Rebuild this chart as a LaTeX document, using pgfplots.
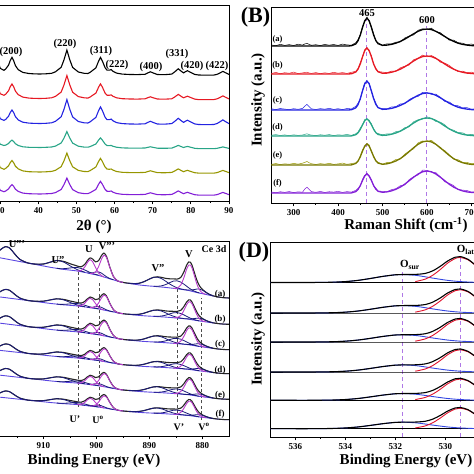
\documentclass[border=0pt]{standalone}
\usepackage{pgfplots}
\pgfplotsset{compat=1.18}
\usepackage{pgfplotstable}
\usepackage{fontspec}
\setmainfont{Liberation Serif}

\definecolor{cred}{RGB}{230,25,35}
\definecolor{cblue}{RGB}{35,35,225}
\definecolor{cteal}{RGB}{40,165,135}
\definecolor{colive}{RGB}{150,150,0}
\definecolor{cpurple}{RGB}{130,30,215}
\definecolor{cdash}{RGB}{175,120,230}
\definecolor{cbg}{RGB}{90,70,225}
\definecolor{cmag}{RGB}{185,60,205}
\definecolor{cnavy}{RGB}{25,25,120}
\definecolor{dred}{RGB}{225,20,45}
\definecolor{dblue}{RGB}{50,70,225}

% XRD patterns: intensity above each trace's own baseline
\pgfplotstableread{
x a b c d e f
29 21.6 18.6 18.6 13.6 17.3 14.9
30 7.2 6.3 6.3 4.8 5.9 5.2
31 5.2 4.7 4.6 3.5 4.2 3.8
31.45 6.5 5.8 5.6 3.9 5.1 4.5
32.2 10.3 9.2 8.7 5.5 7.7 6.6
32.65 15.0 13.3 12.5 7.5 10.8 9.1
33.1 18.1 16.0 15.0 8.9 13.0 10.9
33.55 14.8 13.2 12.4 7.4 10.7 9.1
34.0 9.9 8.9 8.4 5.3 7.3 6.3
34.75 5.8 5.3 5.1 3.5 4.6 4.1
35.95 3.1 2.9 2.8 2.2 2.6 2.4
37.5 2.0 1.9 1.9 1.7 1.8 1.8
39 1.6 1.6 1.6 1.6 1.6 1.6
40.5 1.5 1.5 1.5 1.5 1.5 1.5
42 1.7 1.7 1.7 1.7 1.7 1.7
43.5 2.2 2.2 2.2 2.0 2.1 2.0
44.5 3.7 3.6 3.7 2.9 3.2 2.9
46 8.2 7.9 8.2 6.0 6.8 6.0
46.75 15.8 15.2 15.8 11.0 12.8 11.0
47.5 25.4 24.4 25.4 17.4 20.4 17.4
48.25 15.8 15.2 15.8 11.0 12.8 11.0
49 8.1 7.8 8.1 5.9 6.7 5.9
50.5 3.5 3.4 3.5 2.8 3.1 2.8
52 2.2 2.2 2.2 1.9 2.0 1.9
53 2.0 1.9 2.0 1.8 1.9 1.9
53.6 3.2 3.0 3.2 2.4 2.9 2.8
55.1 7.6 6.9 7.6 5.0 6.5 6.1
55.85 14.7 13.1 14.7 9.1 12.3 11.5
56.3 18.1 16.1 18.1 11.1 15.1 14.1
56.75 14.9 13.3 14.9 9.2 12.4 11.6
57.5 7.9 7.0 7.9 5.0 6.6 6.2
58.0 5.4 4.8 5.4 3.5 4.5 4.3
58.6 5.3 4.7 5.3 3.3 4.2 4.1
59.1 5.9 5.1 5.9 3.6 4.5 4.5
59.6 4.2 3.7 4.2 2.7 3.4 3.3
60.5 2.4 2.2 2.4 1.8 2.0 2.0
62 1.4 1.3 1.4 1.1 1.2 1.2
64 1.0 1.0 1.0 0.9 0.9 0.9
66 0.9 0.9 0.9 0.85 0.86 0.86
68 1.2 1.2 1.2 1.0 1.1 1.1
68.65 2.5 2.2 2.5 1.6 1.9 1.9
69.4 3.7 3.2 3.7 2.2 2.7 2.7
70.15 2.5 2.2 2.5 1.6 1.9 1.9
71.2 1.0 1.0 1.0 0.8 0.9 0.9
73 0.8 0.8 0.8 0.7 0.7 0.7
75 1.4 1.2 1.4 0.9 1.1 1.1
75.8 3.7 3.1 3.7 2.1 2.6 2.6
76.7 6.7 5.6 6.7 3.6 4.6 4.6
77.6 3.9 3.3 3.9 2.2 2.7 2.7
78.1 2.6 2.2 2.6 1.5 1.8 1.8
78.4 3.4 2.7 3.4 1.9 2.3 2.3
79.1 4.8 3.8 4.8 2.6 3.2 3.2
80.0 3.0 2.4 3.0 1.7 2.0 2.0
81 1.1 0.9 1.1 0.7 0.8 0.8
82 0.5 0.4 0.5 0.4 0.4 0.4
84 0.3 0.3 0.3 0.3 0.3 0.3
86 0.4 0.4 0.5 0.3 0.35 0.35
86.9 1.2 1.2 1.5 0.7 0.9 0.9
87.8 2.9 2.9 3.6 1.5 2.2 2.2
88.4 4.1 4.1 5.1 2.1 3.1 3.1
89.0 2.9 2.9 3.6 1.5 2.2 2.2
90 1.1 1.1 1.4 0.6 0.9 0.9
}\tblA

% Raman spectra: fitted curves (f*) and measured data (r*)
\pgfplotstableread{
x fa fb fc fd fe ff ra rb rc rd re rf
250 0 0 0 0 0 0 1.0 0.5 1.2 0.8 0.6 1.1
260 0 0 0 0 0 0 0.3 1.6 0.4 1.4 1.5 0.2
270 0 0 0 0 0 0 1.7 0.2 1.5 0.5 0.4 1.3
280 0 0 0 0 0 0 0.6 1.3 0.9 1.1 1.2 0.6
290 0 0 0 0 0 0 1.4 0.7 0.3 0.3 0.7 1.5
300 0 0 0 0 0 0 0.5 1.9 1.3 1.2 1.6 0.4
310 0 0 0 0 0 0 1.8 0.4 0.7 0.6 0.9 1.2
320 0 0 0 0 0 0 0.9 1.1 1.6 1.0 1.8 0.8
325 0 0 0 0 0 0 2.0 1.5 3.8 1.6 2.6 3.9
330 0 0 0 0 0 0 2.6 1.8 5.6 2.2 3.5 5.8
335 0 0 0 0 0 0 1.6 1.0 3.4 1.4 2.2 3.6
340 0 0 0 0 0 0 0.7 0.6 1.2 0.9 1.3 1.4
350 0 0 0 0 0 0 1.3 1.4 0.5 0.4 0.5 0.7
360 0 0 0 0 0 0 0.4 0.3 1.4 1.3 1.4 1.6
370 0 0 0 0 0 0 1.6 1.2 0.8 0.7 0.8 0.5
380 0 0 0 0 0 0 0.8 0.5 1.7 1.5 1.7 1.3
390 0 0 0 0 0 0 1.5 1.7 0.6 0.4 0.6 0.9
400 0 0 0 0 0 0 0.6 0.8 1.3 1.2 1.1 1.7
410 0 0 0 0 0 0 1.9 1.4 0.4 0.8 1.9 0.6
420 0 0 0 0 0 0 1.1 0.6 1.5 1.6 0.7 1.4
430 0.2 0.2 0.2 0.1 0.1 0.1 0.8 1.7 1.1 0.6 1.4 0.9
440 2.1 2.0 2.2 1.3 1.6 1.4 3.3 2.8 3.7 2.3 2.2 2.7
445 5.3 4.9 5.5 3.2 4.0 3.6 6.5 5.7 7.0 4.1 3.7 4.7
450 10.9 10.1 11.3 6.6 8.2 7.4 11.4 11.4 10.5 8.0 9.2 6.9
455 18.5 17.2 19.1 11.2 13.9 12.5 19.6 16.6 19.8 10.8 15.3 13.8
460 25.2 23.4 26.1 15.3 18.9 17.1 24.3 24.4 27.3 16.5 18.1 17.5
465 28 26 29 17 21 19 28.6 26.4 28.5 17.3 21.6 20.0
470 25.2 23.4 26.1 15.3 18.9 17.1 24.2 22.6 27.0 14.3 20.1 16.2
475 18.5 17.2 19.1 11.2 13.9 12.5 19.3 18.4 18.0 12.3 12.9 13.2
480 11.0 10.1 11.4 6.7 8.3 7.5 12.3 9.6 12.0 7.2 9.2 6.9
485 5.4 5.0 5.6 3.4 4.2 3.8 5.0 5.9 7.0 3.1 4.4 5.0
490 2.3 2.2 2.4 1.5 1.9 1.7 3.2 2.5 2.2 2.5 2.7 2.0
500 0.6 0.7 0.6 0.6 0.7 0.7 0.8 1.9 1.4 1.2 0.8 1.6
510 0.9 0.9 0.9 0.9 1.2 1.1 2.2 1.3 1.2 2.1 2.5 1.3
520 1.6 1.7 1.6 1.7 2.3 2.1 2.1 2.8 3.0 2.0 2.8 3.3
530 2.8 3.0 2.8 3.0 4.0 3.7 3.8 2.7 3.4 4.4 5.5 4.3
540 4.6 4.8 4.6 4.8 6.4 5.9 4.0 6.2 6.1 5.0 6.0 7.3
550 6.8 7.2 6.8 7.2 9.6 8.8 8.0 7.8 6.1 8.3 10.8 8.0
560 9.5 10.0 9.5 10.0 13.4 12.3 9.9 9.0 10.5 9.1 14.0 13.4
570 12.2 13.0 12.2 13.0 17.3 15.8 11.1 14.3 12.7 14.3 16.1 16.3
580 14.7 15.6 14.7 15.6 20.7 19.0 15.7 15.8 13.5 16.2 22.1 18.0
590 16.4 17.4 16.4 17.4 23.1 21.2 17.2 18.9 17.7 16.9 24.0 22.8
600 17 18 17 18 24 22 16.5 17.1 17.4 19.2 23.3 22.7
610 16.4 17.4 16.4 17.4 23.1 21.2 17.8 18.5 15.6 17.7 24.7 20.8
620 14.7 15.6 14.7 15.6 20.7 19.0 14.4 16.1 15.8 14.5 20.9 20.3
630 12.2 13.0 12.2 13.0 17.3 15.8 13.3 11.8 12.9 13.9 16.4 16.2
640 9.5 10.0 9.5 10.0 13.4 12.3 9.7 10.9 8.6 11.3 14.5 11.2
650 6.8 7.2 6.8 7.2 9.6 8.8 5.9 8.6 8.1 6.8 10.3 9.7
660 4.6 4.8 4.6 4.8 6.4 5.9 5.9 5.1 4.8 5.8 5.8 7.4
670 2.8 3.0 2.8 3.0 4.0 3.7 3.3 2.4 4.2 3.4 5.3 3.4
680 1.6 1.7 1.6 1.7 2.3 2.1 2.8 2.8 2.2 3.2 2.7 2.9
690 0.9 0.9 0.9 0.9 1.2 1.1 1.3 1.4 2.4 1.1 2.6 2.5
700 0.4 0.5 0.4 0.5 0.6 0.6 2.0 1.8 0.7 1.6 1.2 0.9
710 0.2 0.2 0.2 0.2 0.3 0.3 0.9 0.6 1.4 0.8 1.8 1.4
720 0.1 0.1 0.1 0.1 0.1 0.1 1.3 1.1 0.6 1.4 0.4 0.7
}\tblB

% Ce 3d: background and measured envelope of the reference sample
\pgfplotstableread{
E bg data
920 41.5 42.3
919 40.8 44.2
918 40.0 48.8
917.2 39.2 51.3
916.4 38.4 50.0
915.5 37.5 44.5
914.5 36.5 38.8
913 35.0 35.1
911.5 33.5 33.9
910 32.0 34.0
908.5 30.5 36.2
907.5 29.7 37.5
906.8 29.0 37.2
906 28.5 36.3
905 27.9 34.3
904.3 27.5 33.1
903.6 27.0 31.9
902.9 26.3 31.2
902.2 25.6 33.7
901.7 25.0 37.5
901.2 24.4 40.1
900.7 23.8 38.8
900.2 23.3 36.2
899.6 22.6 37.4
899.1 21.8 42.1
898.6 21.0 44.9
898.1 20.2 41.4
897.5 19.2 31.2
896.8 18.2 21.5
896 16.8 17.1
895 15.6 15.6
894 14.7 14.8
893 13.9 14.4
892 13.1 14.7
891 12.5 16.4
890 12.0 19.0
889.2 11.7 20.7
888.5 11.3 21.2
887.8 11.0 20.7
887 10.6 19.7
886.2 10.1 19.2
885.5 9.7 19.1
884.8 9.2 18.9
884.1 8.7 20.6
883.5 8.3 26.2
883 7.9 32.8
882.6 7.5 36.0
882.3 7.1 35.8
882 6.7 33.1
881.6 6.2 26.6
881.1 5.5 18.4
880.6 4.9 12.4
880 4.3 8.5
879.4 3.6 5.9
878.8 2.9 3.9
878 2.0 2.2
877 1.0 1.0
876 0.3 0.3
875 0.0 0.0
}\tblC

% fitted Ce 3d components (background included)
\pgfplotstableread{
E H
920 42.3
919 44.2
918 48.8
917.2 51.3
916.4 50.0
915.5 44.5
914.5 38.8
913 35.1
}\cUiii
\pgfplotstableread{
E H
913 35.0
911.5 33.9
910 34.0
908.5 36.2
907.5 37.4
906.8 36.9
906 35.4
905 32.2
904.3 30.1
903.6 28.3
902.9 26.9
902.2 25.8
}\cUii
\pgfplotstableread{
E H
907.5 29.8
906.8 29.3
906 29.4
905 30.0
904.3 30.5
903.6 30.5
902.9 29.5
902.2 28.0
901.7 26.7
901.2 25.5
900.7 24.4
900.2 23.6
899.6 22.7
}\cUi
\pgfplotstableread{
E H
903.6 27.1
902.9 27.4
902.2 31.1
901.7 35.6
901.2 38.3
900.7 36.1
900.2 30.7
899.6 25.0
899.1 22.4
898.6 21.1
}\cU
\pgfplotstableread{
E H
901.7 25.2
901.2 25.0
900.7 25.2
900.2 25.9
899.6 26.1
899.1 25.0
898.6 23.1
898.1 21.2
897.5 19.5
896.8 18.2
}\cUo
\pgfplotstableread{
E H
901.2 24.5
900.7 24.5
900.2 25.9
899.6 31.4
899.1 38.3
898.6 42.7
898.1 40.4
897.5 30.9
896.8 21.5
896 17.1
895 15.6
}\cViii
\pgfplotstableread{
E H
894 14.8
893 14.4
892 14.7
891 16.4
890 19.0
889.2 20.7
888.5 20.8
887.8 19.6
887 17.0
886.2 14.0
885.5 11.9
884.8 10.2
884.1 9.1
883.5 8.5
}\cVii
\pgfplotstableread{
E H
889.2 11.8
888.5 11.7
887.8 12.1
887 13.3
886.2 15.3
885.5 16.9
884.8 17.2
884.1 15.9
883.5 13.8
883 11.8
882.6 10.2
882.3 9.1
882 8.1
881.6 7.0
881.1 5.9
880.6 5.1
}\cVi
\pgfplotstableread{
E H
885.5 9.7
884.8 9.9
884.1 13.0
883.5 20.5
883 28.7
882.6 32.9
882.3 33.0
882 30.4
881.6 23.6
881.1 14.6
880.6 8.4
880 5.0
879.4 3.7
}\cV
\pgfplotstableread{
E H
883.5 8.3
883 8.1
882.6 7.9
882.3 7.9
882 8.0
881.6 8.4
881.1 8.9
880.6 8.9
880 7.8
879.4 5.8
878.8 3.9
878 2.2
}\cVo

% O 1s: surface and lattice oxygen components and envelope
\pgfplotstableread{
E sur latt data
537 0 0 0
536 0 0 0
535.5 0 0 0
535 0.1 0 0.1
534.5 0.3 0 0.3
534 0.9 0 0.9
533.5 2.1 0 2.1
533 4.0 0 4.0
532.5 6.1 0 6.1
532 7.7 0 7.7
531.7 8.0 0 8.0
531.2 7.2 0.9 8.1
530.8 5.7 3.4 9.1
530.5 4.4 7.3 11.7
530.2 3.2 13.0 16.2
529.9 2.1 19.5 21.6
529.6 1.3 24.0 25.3
529.4 0.9 25.0 25.9
529.1 0.5 22.8 23.3
528.8 0.2 17.3 17.5
528.5 0.1 11.0 11.1
528 0 3.4 3.4
}\tblD

\pgfplotsset{
  panel/.style={
    scale only axis, line width=0.9pt, anchor=south west,
    ytick=\empty, xtick pos=lower,
    tick align=outside, major tick length=3.5pt, minor tick length=2pt,
    tick style={line width=0.8pt, black},
    tick label style={font=\fontsize{9}{9}\selectfont\bfseries},
    xticklabel style={yshift=0.5pt},
    /pgf/number format/assume math mode=true,
    minor x tick num=1,
  },
}
\newcommand\fs[1]{\fontsize{#1}{#1}\selectfont\bfseries}

\begin{document}
\begin{tikzpicture}

% ---------- (A) XRD ----------
\begin{axis}[panel, at={(-38pt,273pt)}, width=267pt, height=196pt,
  xmin=20, xmax=90, ymin=0, ymax=196, xtick={20,30,...,90}]
\addplot[black,   line width=1.1pt] table[x=x, y expr=125.5+\thisrow{a}] {\tblA};
\addplot[cred,    line width=1.1pt] table[x=x, y expr=101+\thisrow{b}] {\tblA};
\addplot[cblue,   line width=1.1pt] table[x=x, y expr=76+\thisrow{c}] {\tblA};
\addplot[cteal,   line width=1.1pt] table[x=x, y expr=52+\thisrow{d}] {\tblA};
\addplot[colive,  line width=1.1pt] table[x=x, y expr=27.5+\thisrow{e}] {\tblA};
\addplot[cpurple, line width=1.1pt] table[x=x, y expr=5.5+\thisrow{f}] {\tblA};
\end{axis}

% ---------- (B) Raman ----------
\begin{axis}[panel, at={(271.4pt,271pt)}, width=208.9pt, height=196pt,
  xmin=250, xmax=720, ymin=0, ymax=196, xtick={300,400,...,700}]
\addplot[cdash, line width=1pt, dash pattern=on 4pt off 3pt] coordinates {(465,0) (465,185)};
\addplot[cdash, line width=1pt, dash pattern=on 4pt off 3pt] coordinates {(600,0) (600,177)};
\addplot[black,   line width=0.5pt] table[x=x, y expr=157+\thisrow{ra}] {\tblB};
\addplot[black,   line width=1.3pt] table[x=x, y expr=157+\thisrow{fa}] {\tblB};
\addplot[cred,    line width=0.5pt] table[x=x, y expr=129+\thisrow{rb}] {\tblB};
\addplot[cred,    line width=1.3pt] table[x=x, y expr=129+\thisrow{fb}] {\tblB};
\addplot[cblue,   line width=0.5pt] table[x=x, y expr=93+\thisrow{rc}] {\tblB};
\addplot[cblue,   line width=1.3pt] table[x=x, y expr=93+\thisrow{fc}] {\tblB};
\addplot[cteal,   line width=0.5pt] table[x=x, y expr=67+\thisrow{rd}] {\tblB};
\addplot[cteal,   line width=1.3pt] table[x=x, y expr=67+\thisrow{fd}] {\tblB};
\addplot[colive,  line width=0.5pt] table[x=x, y expr=38+\thisrow{re}] {\tblB};
\addplot[colive!80!black, line width=1.3pt] table[x=x, y expr=38+\thisrow{fe}] {\tblB};
\addplot[cpurple, line width=0.5pt] table[x=x, y expr=10+\thisrow{rf}] {\tblB};
\addplot[cpurple, line width=1.3pt] table[x=x, y expr=10+\thisrow{ff}] {\tblB};
\end{axis}

% ---------- (C) Ce 3d XPS ----------
\begin{axis}[panel, at={(-9.5pt,38pt)}, width=238.5pt, height=195pt,
  xmin=875, xmax=920, x dir=reverse, ymin=0, ymax=195, xtick={880,890,...,920}]
\addplot[black!70, line width=0.8pt, dash pattern=on 3pt off 2.5pt] coordinates {(903.5,29) (903.5,166)};
\addplot[black!70, line width=0.8pt, dash pattern=on 3pt off 2.5pt] coordinates {(899.4,29) (899.4,153)};
\addplot[black!70, line width=0.8pt, dash pattern=on 3pt off 2.5pt] coordinates {(884.7,17) (884.7,149)};
\addplot[black!70, line width=0.8pt, dash pattern=on 3pt off 2.5pt] coordinates {(880.3,16) (880.3,138)};
\pgfplotsinvokeforeach{138+1.00*,111.7+0.68*,86.3+0.66*,62.3+0.58*,36.7+0.60*,16.3+0.56*}{
  \addplot[cbg, line width=0.9pt, smooth] table[x=E, y expr={#1\thisrow{bg}}] {\tblC};
  \addplot[black!85, line width=1.1pt, smooth] table[x=E, y expr={#1\thisrow{data}}] {\tblC};
  \addplot[cnavy, line width=0.8pt, smooth] table[x=E, y expr={#1\thisrow{H}}] {\cUiii};
  \addplot[cnavy, line width=0.8pt, smooth] table[x=E, y expr={#1\thisrow{H}}] {\cUii};
  \addplot[cnavy, line width=0.8pt, smooth] table[x=E, y expr={#1\thisrow{H}}] {\cUi};
  \addplot[cnavy, line width=0.8pt, smooth] table[x=E, y expr={#1\thisrow{H}}] {\cUo};
  \addplot[cnavy, line width=0.8pt, smooth] table[x=E, y expr={#1\thisrow{H}}] {\cVii};
  \addplot[cnavy, line width=0.8pt, smooth] table[x=E, y expr={#1\thisrow{H}}] {\cVi};
  \addplot[cnavy, line width=0.8pt, smooth] table[x=E, y expr={#1\thisrow{H}}] {\cVo};
  \addplot[cmag, line width=0.9pt, smooth] table[x=E, y expr={#1\thisrow{H}}] {\cU};
  \addplot[cmag, line width=0.9pt, smooth] table[x=E, y expr={#1\thisrow{H}}] {\cViii};
  \addplot[cmag, line width=0.9pt, smooth] table[x=E, y expr={#1\thisrow{H}}] {\cV};
}
\end{axis}

% ---------- (D) O 1s XPS ----------
\begin{axis}[panel, at={(270.3pt,37pt)}, width=225pt, height=195pt,
  xmin=528, xmax=537, x dir=reverse, ymin=0, ymax=195, xtick={530,532,534,536}]
\addplot[cdash, line width=1pt, dash pattern=on 4pt off 3pt] coordinates {(531.7,0) (531.7,167)};
\addplot[cdash, line width=1pt, dash pattern=on 4pt off 3pt] coordinates {(529.4,0) (529.4,179)};
\pgfplotsinvokeforeach{154.5+1.00*,124+0.93*,95+0.91*,65+0.89*,36.7+0.85*,8.3+0.82*}{
  \addplot[black, line width=0.9pt] table[x=E, y expr={#1 0}] {\tblD};
  \addplot[dblue, line width=0.9pt, smooth] table[x=E, y expr={#1\thisrow{sur}}] {\tblD};
  \addplot[dred, line width=0.9pt, smooth, restrict x to domain=528:531.3] table[x=E, y expr={#1\thisrow{latt}}] {\tblD};
  \addplot[black, line width=1.1pt, smooth] table[x=E, y expr={#1\thisrow{data}}] {\tblD};
}
\end{axis}

% ---------- panel letters and axis titles ----------
\node[anchor=east, font=\fs{22}] at (4pt,459pt) {(A)};
\node[font=\fs{22}] at (255.5pt,456.5pt) {(B)};
\node[font=\fs{22}] at (254pt,222pt) {(D)};

\node[font=\fs{15}] at (94pt,247pt) {2θ (°)};
\node[font=\fs{15}] at (406pt,248.5pt) {Raman Shift (cm\textsuperscript{-1})};
\node[font=\fs{15}, rotate=90] at (258pt,374pt) {Intensity (a.u.)};
\node[font=\fs{15}] at (94pt,13.5pt) {Binding Energy (eV)};
\node[font=\fs{15}] at (406pt,13.5pt) {Binding Energy (eV)};
\node[font=\fs{15}, rotate=90] at (258pt,135pt) {Intensity (a.u.)};

% XRD reflections
\node[font=\fs{10.5}] at (11pt,422pt) {(200)};
\node[font=\fs{10.5}] at (65pt,430pt) {(220)};
\node[font=\fs{10.5}] at (101pt,423pt) {(311)};
\node[font=\fs{10.5}] at (117pt,409pt) {(222)};
\node[font=\fs{10.5}] at (151pt,407pt) {(400)};
\node[font=\fs{10.5}] at (177pt,420pt) {(331)};
\node[font=\fs{10.5}] at (192pt,408pt) {(420)};
\node[font=\fs{10.5}] at (217pt,408pt) {(422)};

% Raman band positions and sample tags
\node[font=\fs{10.5}] at (367pt,461pt) {465};
\node[font=\fs{10.5}] at (427pt,454pt) {600};
\node[font=\fs{8.5}] at (277.5pt,434.7pt) {(a)};
\node[font=\fs{8.5}] at (277.5pt,408.3pt) {(b)};
\node[font=\fs{8.5}] at (277.5pt,374pt) {(c)};
\node[font=\fs{8.5}] at (277.5pt,346.3pt) {(d)};
\node[font=\fs{8.5}] at (277.5pt,318.7pt) {(e)};
\node[font=\fs{8.5}] at (277.5pt,290.3pt) {(f)};

% Ce 3d peak labels
\node[font=\fs{10.5}] at (17pt,230pt) {U'''};
\node[font=\fs{10.5}] at (58pt,214pt) {U''};
\node[font=\fs{10.5}] at (89pt,225pt) {U};
\node[font=\fs{10.5}] at (107pt,228pt) {V'''};
\node[font=\fs{10.5}] at (158pt,206pt) {V''};
\node[font=\fs{10.5}] at (189pt,220pt) {V};
\node[font=\fs{10}] at (214pt,225pt) {Ce 3d};
\node[font=\fs{10}] at (75pt,55pt) {U'};
\node[font=\fs{10}] at (98pt,54pt) {U\textsuperscript{o}};
\node[font=\fs{10}] at (179pt,47pt) {V'};
\node[font=\fs{10}] at (204pt,47pt) {V\textsuperscript{o}};
\node[font=\fs{9}] at (220pt,179.7pt) {(a)};
\node[font=\fs{9}] at (220pt,154.3pt) {(b)};
\node[font=\fs{9}] at (220pt,129.7pt) {(c)};
\node[font=\fs{9}] at (220pt,103.7pt) {(d)};
\node[font=\fs{9}] at (220pt,78.7pt) {(e)};
\node[font=\fs{9}] at (220pt,59.7pt) {(f)};

% O 1s labels
\node[font=\fs{11}] at (410pt,209pt) {O\textsubscript{sur}};
\node[font=\fs{11}] at (467pt,224pt) {O\textsubscript{latt}};

% page = the visible frame
\pgfresetboundingbox
\useasboundingbox (0pt,0pt) rectangle (474pt,474pt);
\end{tikzpicture}
\end{document}
